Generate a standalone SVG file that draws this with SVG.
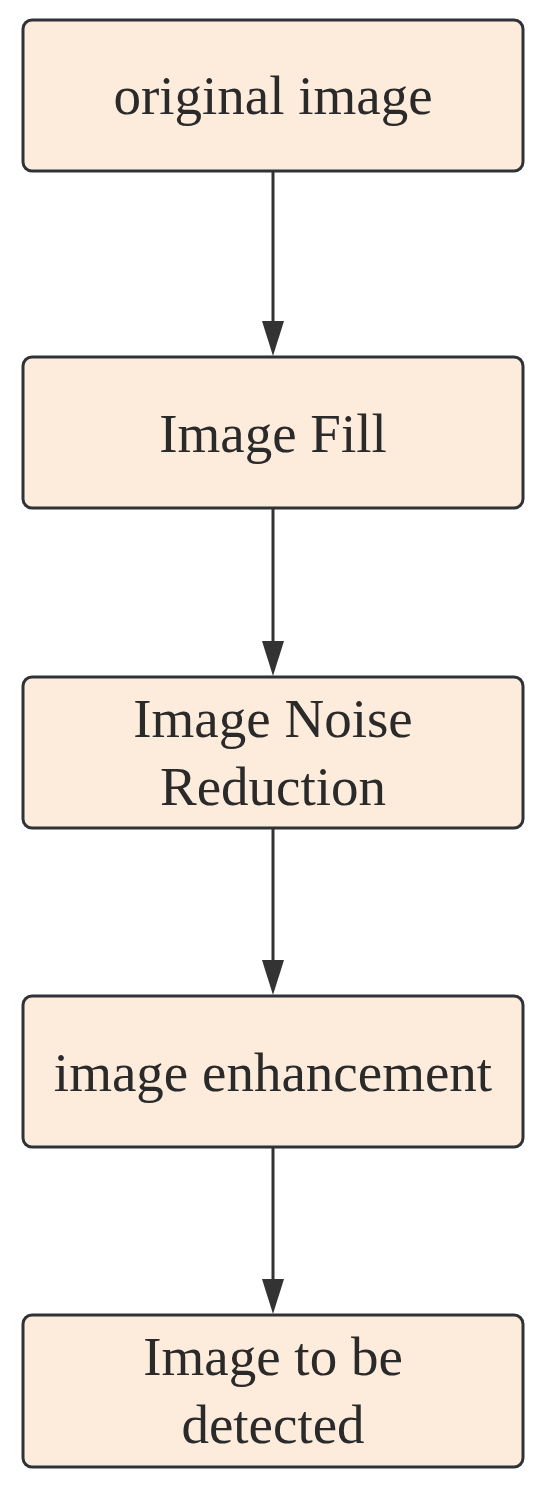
<svg xmlns="http://www.w3.org/2000/svg" width="550" height="1500" viewBox="0 0 550 1500">
<defs>
<style>
.box{fill:#FDEBDB;stroke:#2f3338;stroke-width:3}
.lbl{font-family:"Liberation Serif","Times New Roman",serif;font-size:55px;fill:#2a2a2a;text-anchor:middle}
.edge{stroke:#333;stroke-width:3;fill:none}
</style>
</defs>
<rect width="550" height="1500" fill="#fff"/>
<g id="connectors">
<line class="edge" x1="273" y1="171" x2="273" y2="322"/>
<path d="M262,321 L284,321 L273,356 Z" fill="#333"/>
<line class="edge" x1="273" y1="508" x2="273" y2="642"/>
<path d="M262,641 L284,641 L273,676 Z" fill="#333"/>
<line class="edge" x1="273" y1="828" x2="273" y2="961"/>
<path d="M262,960 L284,960 L273,995 Z" fill="#333"/>
<line class="edge" x1="273" y1="1147" x2="273" y2="1280"/>
<path d="M262,1279 L284,1279 L273,1314 Z" fill="#333"/>
</g>
<g id="n1">
<rect class="box" x="23" y="20" width="500" height="151" rx="9"/>
<text class="lbl" x="273" y="114">original image</text>
</g>
<g id="n2">
<rect class="box" x="23" y="357" width="500" height="151" rx="9"/>
<text class="lbl" x="273" y="452">Image Fill</text>
</g>
<g id="n3">
<rect class="box" x="23" y="677" width="500" height="151" rx="9"/>
<text class="lbl" x="273" y="737">Image Noise</text>
<text class="lbl" x="273" y="805">Reduction</text>
</g>
<g id="n4">
<rect class="box" x="23" y="996" width="500" height="151" rx="9"/>
<text class="lbl" x="273" y="1091">image enhancement</text>
</g>
<g id="n5">
<rect class="box" x="23" y="1315" width="500" height="152" rx="9"/>
<text class="lbl" x="273" y="1375">Image to be</text>
<text class="lbl" x="273" y="1443">detected</text>
</g>
</svg>
